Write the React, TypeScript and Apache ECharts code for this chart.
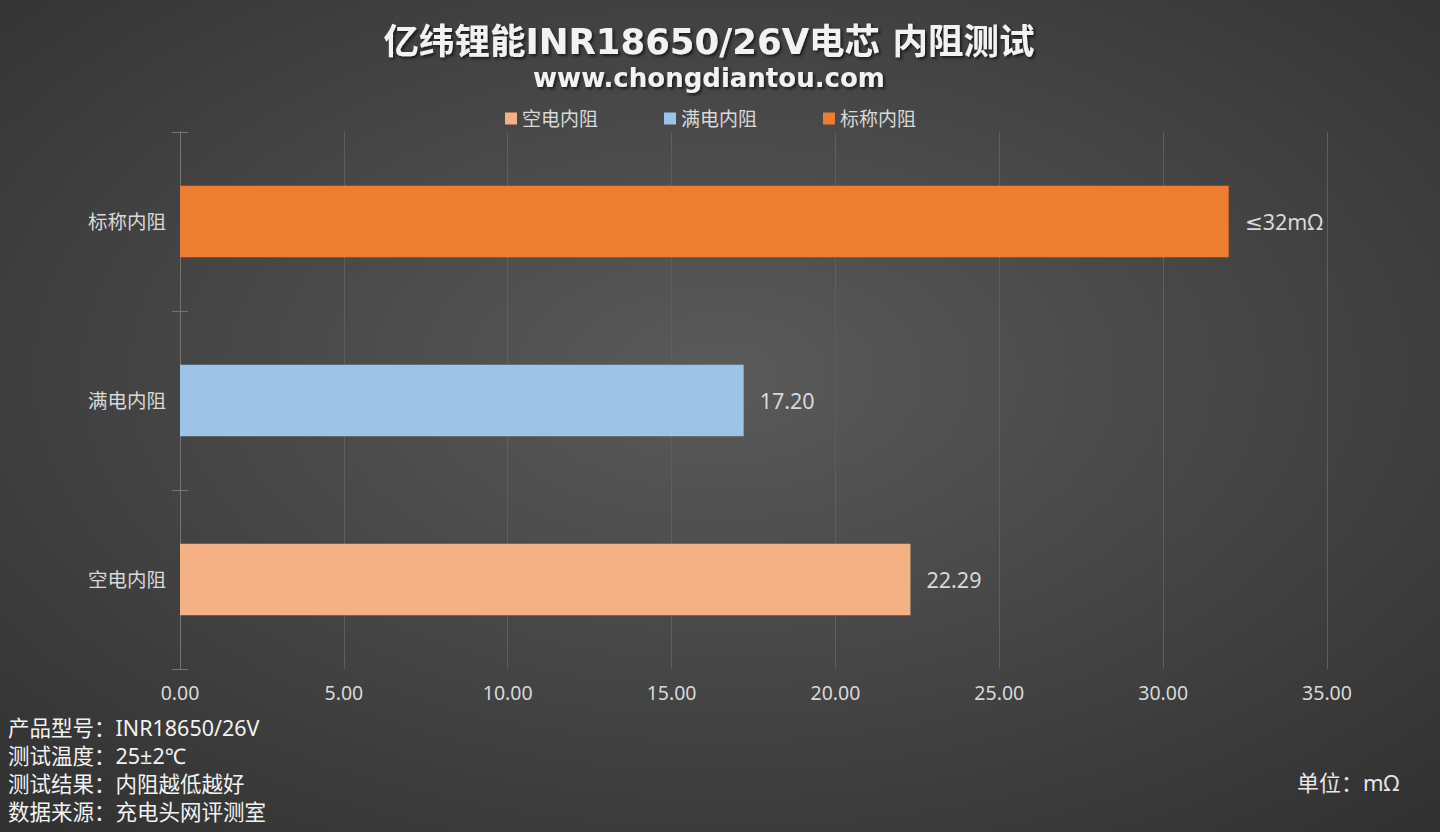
import React, { useEffect, useRef } from "react";
import * as echarts from "echarts";

const categories = ["空电内阻", "满电内阻", "标称内阻"];
const seriesNames = ["空电内阻", "满电内阻", "标称内阻"];
const values = [22.29, 17.2, 32];
const valueLabels = ["22.29", "17.20", "≤32mΩ"];
const colors = ["#F4B183", "#9DC3E6", "#ED7D31"];
const xTicks = [0, 5, 10, 15, 20, 25, 30, 35];
const titleText = "亿纬锂能INR18650/26V电芯 内阻测试";
const subtitleText = "www.chongdiantou.com";
const infoLines = [
  "产品型号：INR18650/26V",
  "测试温度：25±2℃",
  "测试结果：内阻越低越好",
  "数据来源：充电头网评测室",
];
const unitText = "单位：mΩ";

const FONT = '"Noto Sans", "DejaVu Sans", "Noto Sans CJK SC", sans-serif';
const BOLD_FONT = '"DejaVu Sans", "Noto Sans CJK SC", sans-serif';

export default function App() {
  const ref = useRef<HTMLDivElement>(null);
  useEffect(() => {
    if (!ref.current) return;
    const chart = echarts.init(ref.current, null, { renderer: "svg" });
    const series = seriesNames.map((name, i) => ({
      name,
      type: "bar",
      stack: "all",
      barWidth: "40%",
      itemStyle: { color: colors[i] },
      data: categories.map((_, j) => (j === i ? values[i] : null)),
      label: {
        show: true,
        position: "right",
        distance: 16,
        color: "#d9d9d9",
        fontSize: 21.5,
        fontFamily: FONT,
        formatter: () => valueLabels[i],
      },
    }));
    chart.setOption({
      animation: false,
      backgroundColor: {
        type: "radial",
        x: 0.5,
        y: 0.45,
        r: 1,
        colorStops: [
          { offset: 0, color: "#5a5a5a" },
          { offset: 1, color: "#222222" },
        ],
      },
      textStyle: { fontFamily: FONT },
      legend: {
        data: seriesNames,
        left: 500,
        top: 104,
        itemWidth: 12,
        itemHeight: 12,
        itemGap: 66,
        icon: "rect",
        textStyle: { color: "#d9d9d9", fontSize: 19, fontFamily: FONT },
      },
      grid: { left: 180, right: 113, top: 132, bottom: 163 },
      xAxis: {
        type: "value",
        min: xTicks[0],
        max: xTicks[xTicks.length - 1],
        interval: 5,
        axisLine: { show: false },
        axisTick: { show: false },
        splitLine: { show: true, lineStyle: { color: "#5e5e5e", width: 1 } },
        axisLabel: {
          color: "#d9d9d9",
          fontSize: 19.5,
          margin: 14,
          fontFamily: FONT,
          formatter: (v: number) => v.toFixed(2),
        },
      },
      yAxis: [
        {
          type: "category",
          data: categories,
          axisLine: { show: true, lineStyle: { color: "#747474", width: 1 } },
          axisTick: { show: true, length: 8, lineStyle: { color: "#747474" } },
          axisLabel: { color: "#d9d9d9", fontSize: 19.5, margin: 14, fontFamily: FONT },
          splitLine: { show: false },
        },
        {
          type: "category",
          data: categories,
          position: "left",
          axisLine: { show: false },
          axisTick: { show: true, inside: true, length: 8, lineStyle: { color: "#747474" } },
          axisLabel: { show: false },
          splitLine: { show: false },
        },
      ],
      series,
      graphic: [
        {
          type: "text",
          x: 709,
          y: 41,
          style: {
            text: titleText,
            textAlign: "center",
            textVerticalAlign: "middle",
            fill: "#f2f2f2",
            font: `bold 35.5px ${BOLD_FONT}`,
            textShadowColor: "rgba(0,0,0,0.6)",
            textShadowBlur: 3,
            textShadowOffsetX: 2,
            textShadowOffsetY: 2,
          },
        },
        {
          type: "text",
          x: 709,
          y: 78,
          style: {
            text: subtitleText,
            textAlign: "center",
            textVerticalAlign: "middle",
            fill: "#f2f2f2",
            font: `bold 26px ${BOLD_FONT}`,
            textShadowColor: "rgba(0,0,0,0.6)",
            textShadowBlur: 3,
            textShadowOffsetX: 2,
            textShadowOffsetY: 2,
          },
        },
        ...infoLines.map((t, i) => ({
          type: "text",
          x: 8,
          y: 727 + i * 28,
          style: {
            text: t,
            textVerticalAlign: "middle",
            fill: "#f2f2f2",
            font: `21.5px ${FONT}`,
          },
        })),
        {
          type: "text",
          x: 1297,
          y: 782,
          style: {
            text: unitText,
            textVerticalAlign: "middle",
            fill: "#e6e6e6",
            font: `22px ${FONT}`,
          },
        },
      ],
    });
    return () => chart.dispose();
  }, []);
  return (
    <div
      ref={ref}
      style={{ position: "absolute", left: 0, top: 0, width: 1440, height: 832 }}
    />
  );
}
